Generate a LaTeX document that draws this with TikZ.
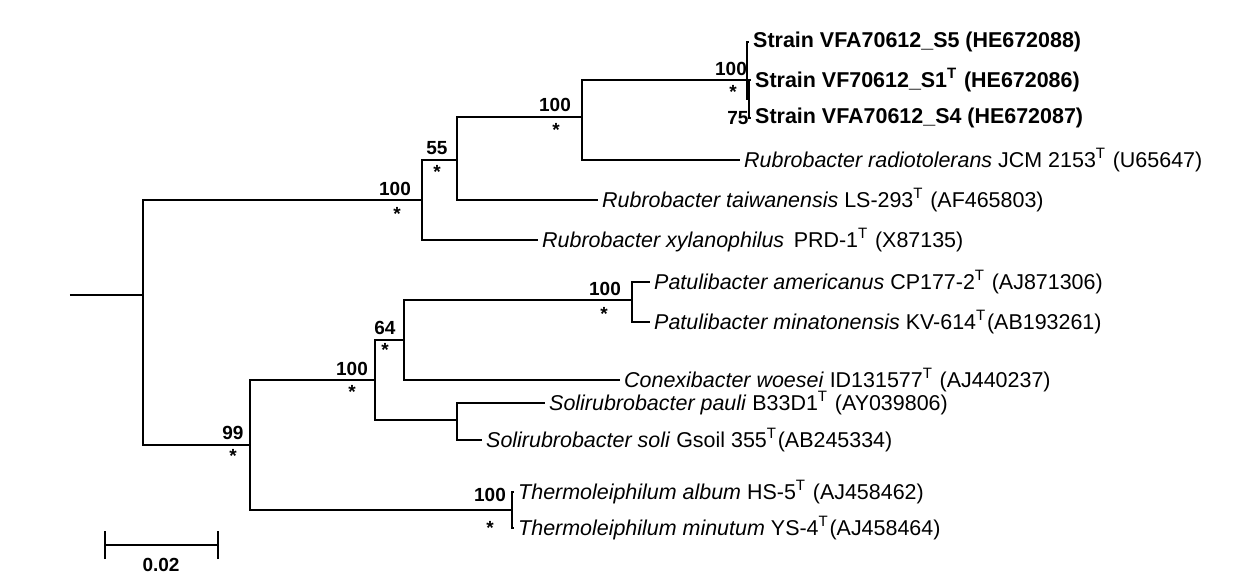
\documentclass[tikz,border=0pt]{standalone}
\usepackage{fontspec}
\setmainfont{Liberation Sans}
\usepackage{tikz}

\tikzset{
  leaf/.style={anchor=west,inner sep=1pt,font=\fontsize{6.1}{7}\selectfont},
  boot/.style={inner sep=0pt,font=\fontsize{5.4}{6}\selectfont\bfseries},
  branch/.style={line width=0.55pt}
}
\newcommand{\sT}{\textsuperscript{T}}

\begin{document}
\begin{tikzpicture}[x=0.01cm,y=-0.01cm]
\useasboundingbox (0,0) rectangle (1259,580);

% internal nodes
\foreach \n/\x/\y in {r0/70/295, r/143/295, a/422/200, b/457/160, c/582/117, d/747/80,
                      e/749/99, f/250/445, g/375/380, i/404/340, k/632/300, j/457/420, h/512/510}
  \coordinate (\n) at (\x,\y);

% leaves
\node[leaf,font=\fontsize{6.1}{7}\selectfont\bfseries] (S5) at (749,42) {Strain VFA70612\_S5 (HE672088)};
\node[leaf,font=\fontsize{6.1}{7}\selectfont\bfseries] (S1) at (751,80) {Strain VF70612\_S1\sT{} (HE672086)};
\node[leaf,font=\fontsize{6.1}{7}\selectfont\bfseries] (S4) at (751,118) {Strain VFA70612\_S4 (HE672087)};
\node[leaf] (radio) at (740,160) {\textit{Rubrobacter radiotolerans} JCM 2153\sT{} (U65647)};
\node[leaf] (taiw) at (598,200) {\textit{Rubrobacter taiwanensis} LS-293\sT{} (AF465803)};
\node[leaf] (xyla) at (538,240) {\textit{Rubrobacter xylanophilus}\, PRD-1\sT{} (X87135)};
\node[leaf] (amer) at (650,282) {\textit{Patulibacter americanus} CP177-2\sT{} (AJ871306)};
\node[leaf] (mina) at (650,322) {\textit{Patulibacter minatonensis} KV-614\sT(AB193261)};
\node[leaf] (cone) at (620,380) {\textit{Conexibacter woesei} ID131577\sT{} (AJ440237)};
\node[leaf] (paul) at (545,403) {\textit{Solirubrobacter pauli} B33D1\sT{} (AY039806)};
\node[leaf] (soli) at (482,440) {\textit{Solirubrobacter soli} Gsoil 355\sT(AB245334)};
\node[leaf] (alb) at (514,492) {\textit{Thermoleiphilum album} HS-5\sT{} (AJ458462)};
\node[leaf] (minu) at (514,528) {\textit{Thermoleiphilum minutum} YS-4\sT(AJ458464)};

% branches
\draw[branch] (r0) -- (r);
\draw[branch] (r) |- (a);
\draw[branch] (r) |- (f);
\draw[branch] (a) |- (b);
\draw[branch] (a) |- (xyla.west);
\draw[branch] (b) |- (c);
\draw[branch] (b) |- (taiw.west);
\draw[branch] (c) |- (d);
\draw[branch] (c) |- (radio.west);
\draw[branch] (d) |- (S5.west);
\draw[branch] (d) |- (e);
\draw[branch] (e) |- (S1.west);
\draw[branch] (e) |- (S4.west);
\draw[branch] (f) |- (g);
\draw[branch] (f) |- (h);
\draw[branch] (g) |- (i);
\draw[branch] (g) |- (j);
\draw[branch] (i) |- (k);
\draw[branch] (i) |- (cone.west);
\draw[branch] (k) |- (amer.west);
\draw[branch] (k) |- (mina.west);
\draw[branch] (j) |- (paul.west);
\draw[branch] (j) |- (soli.west);
\draw[branch] (h) |- (alb.west);
\draw[branch] (h) |- (minu.west);

% support values
\foreach \n/\x/\y/\t in {bA/395/189/100, bB/437/148/55, bC/555/105/100, bD/731/69/100,
                         bE/738/118/75, bF/233/433/99, bG/352/369/100, bI/385/328/64,
                         bK/605/289/100, bH/490/495/100}
  \node[boot] (\n) at (\x,\y) {\t};
\foreach \n/\x/\y in {sA/397/214, sB/437/172, sC/556/130, sD/733/92, sF/233/456,
                      sG/352/392, sI/385/350, sK/604/314, sH/490/528}
  \node[boot] (\n) at (\x,\y) {*};

% scale bar
\coordinate (s0) at (105,545);
\coordinate (s1) at (218,545);
\draw[branch] (s0) -- (s1);
\draw[branch] ([yshift=-4pt]s0) -- ([yshift=4pt]s0);
\draw[branch] ([yshift=-4pt]s1) -- ([yshift=4pt]s1);
\node[boot] (scl) at (161,565) {0.02};
\end{tikzpicture}
\end{document}
